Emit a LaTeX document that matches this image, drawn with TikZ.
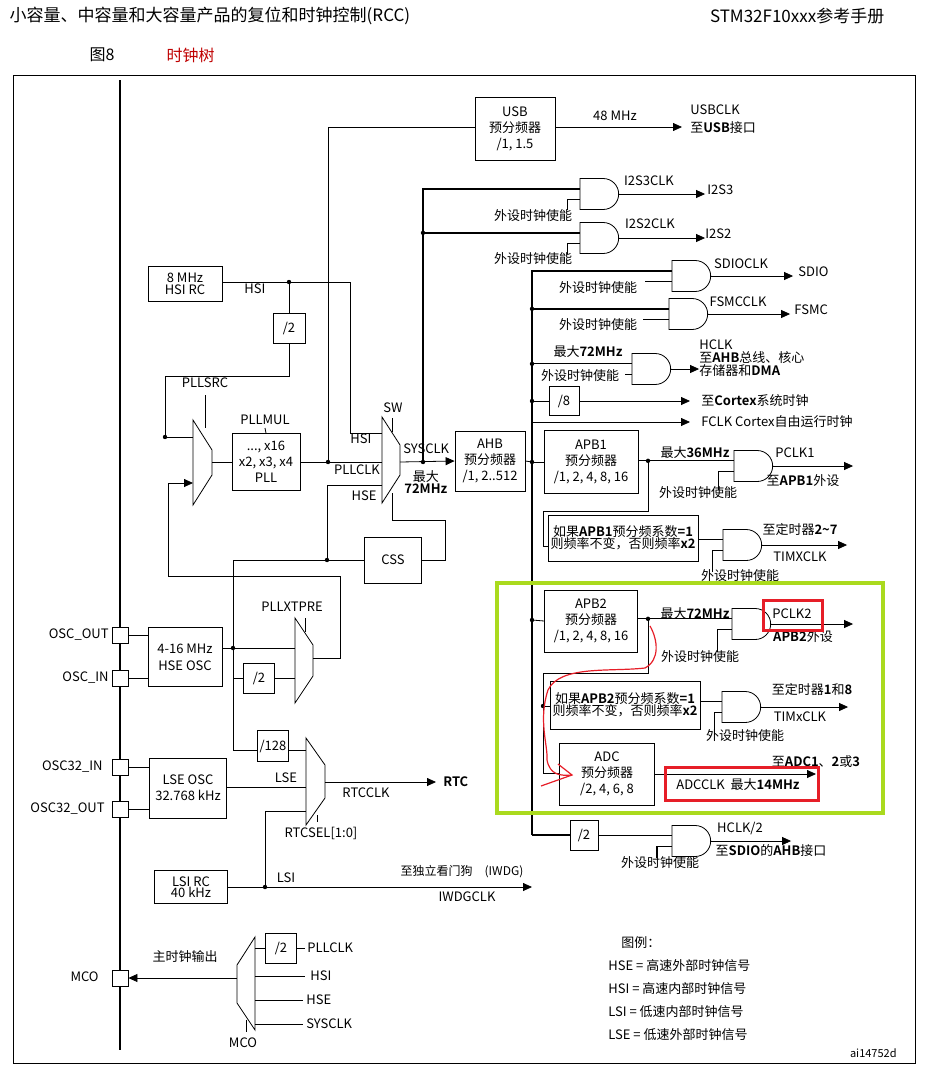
\documentclass[tikz,border=0pt]{standalone}
\usepackage{fontspec}
\setmainfont{Noto Sans CJK SC}[BoldFont={Noto Sans CJK SC Bold}]
\usetikzlibrary{arrows.meta,shapes.gates.logic.US}
\definecolor{grn}{RGB}{170,218,30}
\definecolor{rd}{RGB}{230,30,40}
\newcommand{\fs}{\fontsize{13}{15}\selectfont}
\newcommand{\muxR}[5]{\draw[thick] (#1,#2) -- (#1+#4,#2+#5) -- (#1+#4,#3-#5) -- (#1,#3) -- cycle;}
\begin{document}
\begin{tikzpicture}[x=1pt,y=-1pt,line width=0.8pt,
  box/.style={draw,align=center,inner sep=1pt,font=\fs,line width=0.8pt},
  gate/.style={and gate US,draw,logic gate inputs=nn,minimum width=28pt,minimum height=31pt,inner sep=0pt},
  arr/.style={-{Triangle[length=9pt,width=8pt]}},
  lbl/.style={font=\fs,inner sep=1pt},
  pin/.style={draw,minimum size=16pt,inner sep=0pt,fill=white},
  bus/.style={line width=1.6pt}]
\useasboundingbox (0,0) rectangle (926,1079);
% header
\node[anchor=west,font=\fontsize{17}{19}\selectfont] (h1) at (6,16) {小容量、中容量和大容量产品的复位和时钟控制(RCC)};
\node[anchor=east,font=\fontsize{17}{19}\selectfont] (h2) at (888,16) {STM32F10xxx参考手册};
\node[anchor=west,font=\fontsize{16}{18}\selectfont] (h3) at (86,55) {图8};
\node[anchor=west,font=\fontsize{16}{18}\selectfont,text=red!75!black] (h4) at (163,55) {时钟树};
\draw (13,75) rectangle (915,1063);
\draw[bus] (120,80) -- (120,1050);
% pins
\node[pin] (oscout) at (120,635) {}; \node[lbl,anchor=east] at (110,635) {OSC\_OUT};
\node[pin] (oscin) at (120,678) {}; \node[lbl,anchor=east] at (110,678) {OSC\_IN};
\node[pin] (o32in) at (120,767) {}; \node[lbl,anchor=east] at (104,767) {OSC32\_IN};
\node[pin] (o32out) at (120,809) {}; \node[lbl,anchor=east] at (106,809) {OSC32\_OUT};
\node[pin] (mcop) at (120,978) {}; \node[lbl,anchor=east] at (100,977) {MCO};
% HSI
\node[box,minimum width=74pt,minimum height=35pt] (hsi) at (185,284) {8 MHz\\[-3pt]HSI RC};
\node[box,minimum width=32pt,minimum height=30pt] (d2a) at (289,328) {/2};
\draw (hsi.east |- 0,282) -- (350,282) -- (350,433) -- (382,433);
\node[lbl] at (255,289) {HSI}; \node[lbl] at (361,439) {HSI};
\fill (289,282) circle (2.2pt);
\draw (289,282) -- (d2a.north); \draw (d2a.south) -- (289,376) -- (165,376) -- (165,437) -- (193,437);
\fill (165,437) circle (2.2pt);
% PLLSRC
\muxR{193}{420}{505}{19}{30}
\node[lbl] at (205,383) {PLLSRC}; \draw (205,395) -- (205,428);
\node[box,minimum width=68pt,minimum height=57pt] (pll) at (266,462) {..., x16\\[1pt]x2, x3, x4\\[1pt]PLL};
\node[lbl] at (265,420) {PLLMUL}; \draw (265,428) -- (pll.north);
\draw (212,462) -- (pll.west);
\draw[arr] (168,576) -- (168,483) -- (193,483);
\draw (168,576) -- (340,576) -- (340,658) -- (313,658);
% SW
\muxR{382}{417}{503}{18}{28}
\node[lbl] at (393,408) {SW}; \draw (392,418) -- (392,432);
\draw (pll.east) -- (382,462); \fill (328,462) circle (2.2pt);
\node[lbl] at (357,470) {PLLCLK};
\draw (328,462) -- (328,127);
\draw (382,485) -- (327,485) -- (327,560); \node[lbl] at (364,496) {HSE};
\fill (327,560) circle (2.2pt);
\node[box,minimum width=57pt,minimum height=46pt] (css) at (393,560) {CSS};
\draw (392,493) -- (392,520) -- (445,520) -- (445,560) -- (css.east);
\draw (css.west) -- (233,560) -- (233,750);
\node[box,minimum width=70pt,minimum height=60pt] (ahb) at (490,461) {AHB\\[1pt]预分频器\\[1pt]/1, 2..512};
\draw[arr] (400,462) -- (ahb.west);
\node[lbl,anchor=west] at (402,449) {SYSCLK};
\node[lbl,anchor=west,align=center,font=\fs\bfseries] at (403,482) {\mdseries 最大\\[-3pt]72MHz};
\fill (423,462) circle (2.2pt);
% USB
\node[box,minimum width=80pt,minimum height=63pt] (usb) at (515,129) {USB\\[1pt]预分频器\\[1pt]/1, 1.5};
\draw (328,127) -- (usb.west |- 0,127);
\draw[arr] (usb.east |- 0,127) -- (682,127);
\node[lbl] at (615,116) {48 MHz};
\node[lbl,anchor=west] at (689,110) {USBCLK};
\node[lbl,anchor=west] at (689,128) {至\textbf{USB}接口};
% I2S gates
\node[gate] (gi3) at (598,194) {};
\node[gate] (gi2) at (598,238) {};
\draw[bus] (423,462) -- (423 ,0 |- gi3.input 1) -- (gi3.input 1);
\fill (423,0 |- gi2.input 1) circle (2.2pt);
\draw[bus] (423,0 |- gi2.input 1) -- (gi2.input 1);
\draw (567,210) |- (gi3.input 2); \draw (567,254) |- (gi2.input 2);
\node[lbl] at (533,216) {外设时钟使能}; \node[lbl] at (533,259) {外设时钟使能};
\draw[arr] (gi3.output) -- ++(86,0); \draw[arr] (gi2.output) -- ++(86,0);
\node[lbl] at (649,181) {I2S3CLK}; \node[lbl] at (650,224) {I2S2CLK};
\node[lbl,anchor=west] at (706,190) {I2S3}; \node[lbl,anchor=west] at (704,234) {I2S2};
% AHB bus
\draw (ahb.east) -- (532,462);
\fill (532,462) circle (2.2pt);
\node[gate] (gsd) at (690,276) {};
\draw[bus] (532,835) -- (532,0 |- gsd.input 1) -- (gsd.input 1);
\draw[arr] (gsd.output) -- ++(82,0); \node[lbl] at (741,264) {SDIOCLK}; \node[lbl,anchor=west] at (797,272) {SDIO};
\draw (645,0 |- gsd.input 2) -- (gsd.input 2); \node[lbl] at (598,288) {外设时钟使能};
\node[gate] (gfs) at (687,314) {};
\fill (532,0 |- gfs.input 1) circle (2.2pt);
\draw[bus] (532,0 |- gfs.input 1) -- (gfs.input 1);
\draw[arr] (gfs.output) -- ++(82,0); \node[lbl] at (738,302) {FSMCCLK}; \node[lbl,anchor=west] at (793,310) {FSMC};
\draw (643,0 |- gfs.input 2) -- (gfs.input 2); \node[lbl] at (598,325) {外设时钟使能};
\node[gate] (ghc) at (650,369) {};
\fill (532,0 |- ghc.input 1) circle (2.2pt);
\draw (532,0 |- ghc.input 1) -- (ghc.input 1);
\node[lbl,font=\fs\bfseries] at (588,352) {\mdseries 最大\bfseries72MHz};
\draw (625,0 |- ghc.input 2) -- (ghc.input 2); \node[lbl] at (580,376) {外设时钟使能};
\draw[arr] (ghc.output) -- ++(28,0);
\node[lbl,anchor=west,align=left] at (698,358) {HCLK\\[-2pt]至\textbf{AHB}总线、核心\\[-2pt]存储器和\textbf{DMA}};
\node[box,minimum width=30pt,minimum height=29pt] (d8) at (564,401) {/8};
\fill (532,401) circle (2.2pt); \draw (532,401) -- (d8.west);
\draw[arr] (d8.east) -- (690,401); \node[lbl,anchor=west] at (700,401) {至\textbf{Cortex}系统时钟};
\draw[arr] (532,422) -- (690,422); \node[lbl,anchor=west] at (700,422) {FCLK Cortex自由运行时钟};
% APB1
\node[box,minimum width=94pt,minimum height=63pt] (apb1) at (591,462) {APB1\\[1pt]预分频器\\[1pt]/1, 2, 4, 8, 16};
\draw (532,462) -- (apb1.west);
\node[gate] (gp1) at (752,466) {};
\draw (apb1.east |- gp1.input 1) -- (gp1.input 1);
\fill (648,0 |- gp1.input 1) circle (2.2pt);
\node[lbl,font=\fs\bfseries] at (695,453) {\mdseries 最大\bfseries36MHz};
\draw (718,490) |- (gp1.input 2); \node[lbl] at (698,493) {外设时钟使能};
\draw[arr] (gp1.output) -- ++(80,0);
\node[lbl] at (795,453) {PCLK1}; \node[lbl] at (803,481) {至\textbf{APB1}外设};
\node[box,minimum width=150pt,minimum height=46pt] (t1) at (623,538) {如果\textbf{APB1}预分频系数\textbf{=1}\\[-3pt]则频率不变，否则频率\textbf{x2}};
\draw (648,0 |- gp1.input 1) -- (648,511) -- (543,511) -- (543,546) -- (548,546);
\node[gate] (gt1) at (741,545) {};
\draw (t1.east |- gt1.input 1) -- (gt1.input 1);
\draw (712,572) |- (gt1.input 2); \node[lbl] at (740,576) {外设时钟使能};
\draw[arr] (gt1.output) -- ++(85,0);
\node[lbl] at (800,530) {至定时器\textbf{2\textasciitilde7}}; \node[lbl] at (800,557) {TIMXCLK};
% green
\draw[grn,line width=3.5pt] (497,583) rectangle (883,813);
% APB2
\node[box,minimum width=93pt,minimum height=62pt] (apb2) at (591,621) {APB2\\[1pt]预分频器\\[1pt]/1, 2, 4, 8, 16};
\fill (532,620) circle (2.2pt); \draw (532,620) -- (apb2.west);
\node[gate] (gp2) at (750,624) {};
\draw (apb2.east |- gp2.input 1) -- (gp2.input 1);
\fill (648,0 |- gp2.input 1) circle (2.2pt);
\node[lbl,font=\fs\bfseries] at (695,614) {\mdseries 最大\bfseries72MHz};
\draw (717,652) |- (gp2.input 2); \node[lbl] at (700,657) {外设时钟使能};
\draw[arr] (gp2.output) -- ++(82,0);
\node[lbl] at (792,614) {PCLK2}; \node[lbl] at (803,637) {\textbf{APB2}外设};
\draw[rd,line width=3pt] (763,600) rectangle (822,630);
\node[box,minimum width=150pt,minimum height=48pt] (t2) at (625,705) {如果\textbf{APB2}预分频系数\textbf{=1}\\[-3pt]则频率不变，否则频率\textbf{x2}};
\draw (648,0 |- gp2.input 1) -- (648,673) -- (543,673) -- (543,773) -- (560,773);
\fill (543,706) circle (2.2pt); \draw (543,706) -- (t2.west |- 0,706);
\node[gate] (gt2) at (740,707) {};
\draw (t2.east |- gt2.input 1) -- (gt2.input 1);
\draw (714,735) |- (gt2.input 2); \node[lbl] at (745,736) {外设时钟使能};
\draw[arr] (gt2.output) -- ++(87,0);
\node[lbl] at (812,690) {至定时器\textbf{1}和\textbf{8}}; \node[lbl] at (800,717) {TIMxCLK};
\node[box,minimum width=95pt,minimum height=62pt] (adc) at (607,774) {ADC\\[1pt]预分频器\\[1pt]/2, 4, 6, 8};
\draw[arr] (adc.east |- 0,774) -- (816,774);
\node[lbl] at (816,762) {至\textbf{ADC1}、\textbf{2}或\textbf{3}};
\node[lbl] at (738,785) {ADCCLK\ \ 最大\textbf{14MHz}};
\draw[rd,line width=3pt] (665,767) rectangle (818,800);
% red freehand
\draw[rd,line width=1.2pt] (650,626) .. controls (658,640) and (660,660) .. (645,668) .. controls (610,672) and (560,665) .. (548,690) .. controls (538,720) and (548,745) .. (547,760) .. controls (550,775) and (560,776) .. (572,775);
\draw[rd,line width=1.2pt] (558,764) -- (572,775) -- (541,786);
% HCLK/2
\node[box,minimum width=28pt,minimum height=30pt] (d2h) at (584,835) {/2};
\draw[bus] (532,835) -- (d2h.west);
\node[gate] (gh2) at (690,841) {};
\draw (d2h.east |- gh2.input 1) -- (gh2.input 1);
\draw[line width=1.2pt] (657,858) |- (gh2.input 2); \node[lbl] at (660,863) {外设时钟使能};
\draw[arr] (gh2.output) -- ++(80,0);
\node[lbl] at (740,828) {HCLK/2}; \node[lbl] at (771,851) {至\textbf{SDIO}的\textbf{AHB}接口};
% HSE OSC
\node[box,minimum width=74pt,minimum height=59pt] (hse) at (185,657) {4-16 MHz\\[2pt]HSE OSC};
\draw (oscout.east) -- (hse.west |- oscout.east); \draw (oscin.east) -- (hse.west |- oscin.east);
\draw (hse.east |- 0,648) -- (295,648); \fill (233,648) circle (2.2pt);
\node[box,minimum width=31pt,minimum height=30pt] (d2b) at (259,678) {/2};
\draw (233,678) -- (d2b.west); \draw (d2b.east) -- (295,678);
\muxR{295}{618}{703}{18}{27}
\node[lbl] at (292,607) {PLLXTPRE}; \draw (305,618) -- (305,632);
% RTC
\node[box,minimum width=31pt,minimum height=31pt] (d128) at (273,746) {/128};
\draw (233,750) -- (d128.west |- 0,750); \draw (d128.east |- 0,750) -- (306,750);
\muxR{306}{738}{825}{19}{27}
\node[box,minimum width=77pt,minimum height=60pt] (lse) at (188,788) {LSE OSC\\[1pt]32.768 kHz};
\draw (o32in.east) -- (lse.west |- o32in.east); \draw (o32out.east) -- (lse.west |- o32out.east);
\draw (lse.east |- 0,787) -- (306,787); \node[lbl] at (286,778) {LSE};
\draw[arr] (325,782) -- (436,782); \node[lbl,font=\fs\bfseries,anchor=west] at (442,782) {RTC};
\node[lbl] at (366,793) {RTCCLK};
\node[lbl] at (321,833) {RTCSEL[1:0]}; \draw (317,815) -- (317,822);
\node[box,minimum width=73pt,minimum height=33pt] (lsi) at (191,887) {LSI RC\\[-4pt]40 kHz};
\draw[arr] (lsi.east) -- (532,887);
\fill (265,887) circle (2.2pt); \draw (265,887) -- (265,811) -- (306,811);
\node[lbl] at (286,878) {LSI};
\node[lbl,font=\fontsize{12}{14}\selectfont] at (462,872) {至独立看门狗\quad(IWDG)};
\node[lbl] at (467,897) {IWDGCLK};
% MCO
\draw[thick] (255,937) -- (237,965) -- (237,1003) -- (255,1030) -- cycle;
\node[box,minimum width=31pt,minimum height=30pt] (d2m) at (281,948) {/2};
\draw (255,948) -- (d2m.west); \draw (d2m.east) -- (305,948);
\node[lbl,anchor=west] at (306,948) {PLLCLK};
\draw (255,976) -- (305,976); \node[lbl,anchor=west] at (309,976) {HSI};
\draw (255,1000) -- (303,1000); \node[lbl,anchor=west] at (305,1000) {HSE};
\draw (255,1024) -- (303,1024); \node[lbl,anchor=west] at (305,1024) {SYSCLK};
\draw[arr] (237,978) -- (mcop.east); \node[lbl] at (185,957) {主时钟输出};
\node[lbl] at (243,1043) {MCO}; \draw (246,1020) -- (246,1032);
% legend
\node[lbl,anchor=west] at (620,943) {图例：};
\node[lbl,anchor=west] at (607,966) {HSE = 高速外部时钟信号};
\node[lbl,anchor=west] at (607,989) {HSI = 高速内部时钟信号};
\node[lbl,anchor=west] at (607,1012) {LSI = 低速内部时钟信号};
\node[lbl,anchor=west] at (607,1035) {LSE = 低速外部时钟信号};
\node[lbl,anchor=east,font=\fontsize{11}{13}\selectfont] at (898,1053) {ai14752d};
\end{tikzpicture}
\end{document}
